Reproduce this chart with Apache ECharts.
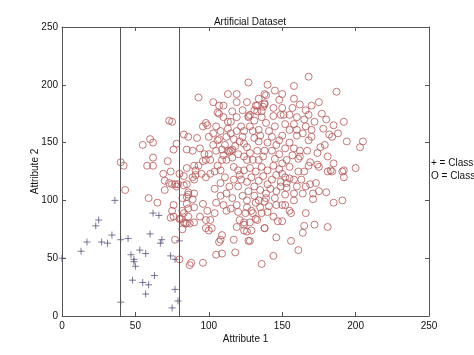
<!DOCTYPE html>
<html>
<head>
<meta charset="utf-8">
<script src="https://cdn.jsdelivr.net/npm/echarts@6/dist/echarts.min.js"></script>
<style>
html,body{margin:0;padding:0;background:#fff;}
#chart{width:474px;height:355px;}
</style>
</head>
<body>
<div id="chart"></div>
<script>
var titleText = 'Artificial Dataset';
var xName = 'Attribute 1';
var yName = 'Attribute 2';
var legendLines = ['+ = Class A', 'O = Class B'];
var xTicks = [0, 50, 100, 150, 200, 250];
var yTicks = [0, 50, 100, 150, 200, 250];
var boundaries = [40, 80];

var classA = [
  [0,50],[36,100],[25,83],[23,78],[17,64],[13,56],[27,64],[31,63],[34,70],[40,66],
  [45,67],[60,71],[62,89],[66,87],[47,53],[49,49],[49,47],[50,43],[53,57],[57,54],
  [67,63],[68,66],[48,31],[55,29],[59,27],[63,35],[57,19],[40,12],[74,52],[77,49],
  [80,65],[77,23],[79,13],[75,7]
];

var classB = [
  [55,148],[60,153],[62,150],[40,133],[42,130],[58,130],[62,130],[62,137],[43,109],[59,102],[65,98],
  [80,49],[87,44],[88,46],[96,46],[105,53],[109,54],[118,55],[136,45],[144,52],[161,57],
  [127,202],[93,189],[107,182],[119,185],[73,169],[75,168],[106,176],[107,175],[98,167],[96,164],
  [99,165],[105,164],[113,168],[119,172],[113,162],[108,160],[83,157],[86,155],[92,154],[78,149],
  [76,144],[85,144],[89,143],[94,145],[107,153],[106,152],[117,153],[105,143],[109,144],[113,143],
  [115,143],[121,151],[124,149],[126,146],[131,154],[134,151],[130,160],[134,161],[135,156],[128,164],
  [131,169],[133,177],[137,181],[132,182],[134,188],[138,192],[138,184],[136,172],[128,174],[127,172],
  [122,164],[124,160],[123,155],[72,134],[69,123],[70,117],[74,125],[80,123],[83,121],[85,128],
  [90,130],[91,122],[77,114],[79,114],[85,114],[89,120],[90,118],[96,134],[98,135],[101,135],
  [106,130],[108,126],[93,130],[91,126],[95,123],[98,120],[101,123],[104,125],[109,135],[112,135],
  [116,137],[110,139],[114,142],[116,144],[117,129],[120,126],[121,122],[124,138],[128,141],[133,143],
  [130,135],[126,135],[134,135],[137,138],[138,143],
  [168,207],[158,199],[187,194],[139,191],[138,183],[133,182],[131,178],[136,177],[144,180],[148,187],
  [150,180],[149,174],[151,174],[155,174],[144,173],[127,173],[168,174],[177,175],[152,166],[158,166],
  [155,161],[160,156],[150,156],[192,168],[188,158],[182,157],[184,155],[194,151],[203,146],[205,151],
  [200,128],[192,126],[192,120],[183,126],[175,129],[174,141],[169,133],[165,125],[161,136],[162,138],
  [155,129],[150,132],[145,136],[179,148],[181,138],[176,146],[168,152],[170,155],[162,143],[167,143],
  [191,125],[181,125],[184,125],[185,132],[174,131],[168,130],[169,114],[173,115],[175,108],[180,107],
  [171,106],[171,101],[185,98],[191,100],[166,89],[156,89],[172,79],[165,78],[164,72],[181,77],
  [156,65],[146,68],[138,76],[127,65],[124,74],[129,74],[132,84],[124,81],[125,89],[129,91],
  [144,86],[147,82],[150,82],[146,96],[150,96],[152,96],[155,91],[138,99],[141,95],[132,98],
  [126,94],[145,102],[152,105],[158,106],[164,106],[153,111],[153,115],[155,119],[150,123],[161,125],
  [75,114],[78,112],[82,102],[86,105],[89,101],[76,96],[75,91],[76,86],[81,84],[84,80],
  [87,80],[90,81],[94,86],[98,83],[101,83],[98,76],[100,74],[102,76],[109,70],[108,66],
  [107,64],[77,66],[117,66],[128,65],[126,73],[133,83],[138,76],[130,89],[136,89],[96,97],
  [99,91],[104,89],[112,91],[121,83],[124,79],[128,81],[119,77],
  [70,109],[73,115],[74,85],[80,84],[83,81],[85,80],[82,75],
  [83,113],[86,107],[85,103],[90,106],[85,97],[82,91],[86,93],[90,94],[83,89],[86,86],
  [122,118],[126,116],[129,120],[131,112],[134,117],[137,121],[140,114],[143,118],[146,122],[149,116],
  [152,120],[127,108],[131,104],[135,109],[139,106],[142,110],[146,108],[149,112],[124,126],[128,128],
  [132,125],[136,129],[140,126],[144,130],[148,127],[120,112],[123,104],[126,100],[134,100],[139,102],
  [117,118],[114,112],[111,120],[108,115],[104,110],[112,106],[116,102],[119,96],[108,104],[105,98],
  [110,96],[115,93],[120,90],[135,94],[140,90],[158,100],[160,112],[163,118],[166,112],[158,118],
  [140,150],[143,155],[146,148],[141,160],[145,164],[139,167],[143,143],[148,140],[152,145],[155,150],
  [158,145],[157,139],[153,135],[148,152],[160,161],[164,158],[166,164],[170,161],[172,168],[165,170],
  [160,172],[157,180],[162,183],[166,178],[170,182],[158,188],[175,185],[180,170],[178,162],[185,165],
  [145,195],[140,200],[150,192],[120,140],[118,147],[111,148],[103,148],[100,140],[97,140],[100,155],
  [103,158],[112,155],[115,158],[119,160],[115,168],[110,172],[123,178],[126,185],[119,192],[113,192],
  [103,185],[110,182],[116,177]
];

var chart = echarts.init(document.getElementById('chart'), null, {renderer:'canvas'});
var axisColor = '#555555';
var fontFam = 'Liberation Sans, Arial, Helvetica, sans-serif';
var xMin = xTicks[0], xMax = xTicks[xTicks.length-1], xInt = xTicks[1]-xTicks[0];
var yMin = yTicks[0], yMax = yTicks[yTicks.length-1], yInt = yTicks[1]-yTicks[0];

function axisBase(pos, showLabel){
  return {
    type:'value', position: pos, min: xMin, max: xMax, interval: xInt,
    axisLine:{show:true, onZero:false, lineStyle:{color:axisColor, width:1}},
    axisTick:{show:true, inside:true, length:4, lineStyle:{color:axisColor}},
    axisLabel:{show:showLabel, color:'#111', fontSize:10, fontFamily:fontFam, margin:5},
    splitLine:{show:false}
  };
}
var x0 = axisBase('bottom', true);
x0.name = xName; x0.nameLocation = 'middle'; x0.nameGap = 18; x0.nameMoveOverlap = false;
x0.nameTextStyle = {color:'#111', fontSize:10, fontFamily:fontFam};
var x1 = axisBase('top', false);
var y0 = axisBase('left', true);
y0.min = yMin; y0.max = yMax; y0.interval = yInt;
y0.name = yName; y0.nameLocation = 'middle'; y0.nameGap = 22; y0.nameMoveOverlap = false;
y0.nameTextStyle = {color:'#111', fontSize:10, fontFamily:fontFam};
y0.axisLabel.margin = 4;
var y1 = axisBase('right', false);
y1.min = yMin; y1.max = yMax; y1.interval = yInt;

chart.setOption({
  animation:false,
  backgroundColor:'#ffffff',
  title:{text:titleText, left:245, top:12, textAlign:'center',
    textStyle:{fontSize:10, fontWeight:'normal', color:'#111', fontFamily:fontFam}},
  grid:{left:62, right:45, top:27, bottom:39, containLabel:false},
  xAxis:[x0, x1],
  yAxis:[y0, y1],
  graphic:[
    {type:'text', left:431, top:158, style:{text:legendLines[0], fontSize:10, fontFamily:fontFam, fill:'#111'}},
    {type:'text', left:431, top:171, style:{text:legendLines[1], fontSize:10, fontFamily:fontFam, fill:'#111'}}
  ],
  series:[
    {
      type:'scatter', xAxisIndex:0, yAxisIndex:0, data:classB,
      symbol:'circle', symbolSize:7,
      itemStyle:{color:'rgba(0,0,0,0)', borderColor:'#b65656', borderWidth:0.8, opacity:1},
      silent:true
    },
    {
      type:'scatter', xAxisIndex:0, yAxisIndex:0, data:classA,
      symbol:'path://M0,5L10,5M5,0L5,10', symbolSize:7,
      itemStyle:{color:'none', borderColor:'#45456f', borderWidth:0.9},
      silent:true,
      markLine:{
        silent:true, symbol:'none', animation:false,
        label:{show:false},
        lineStyle:{color:'#555555', width:1, type:'solid'},
        data: boundaries.map(function(b){ return {xAxis:b}; })
      }
    }
  ]
});
</script>
</body>
</html>
